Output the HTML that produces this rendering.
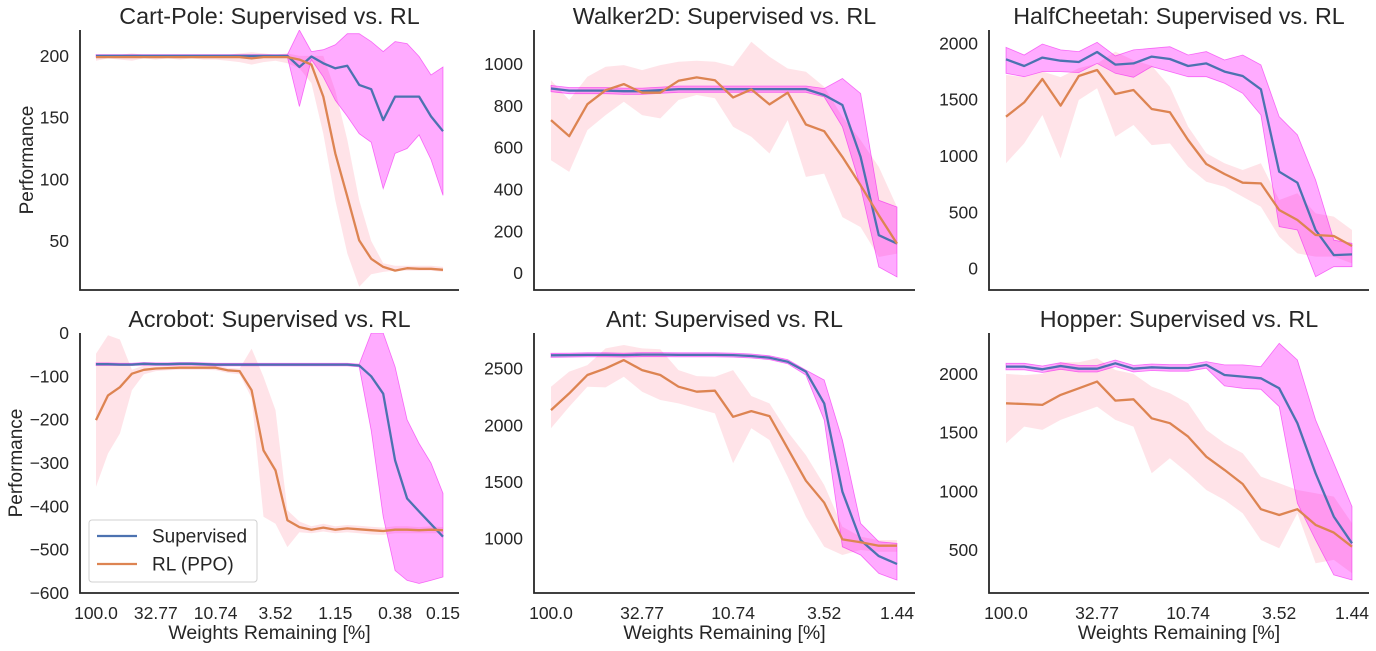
<!DOCTYPE html>
<html><head><meta charset="utf-8"><style>
html,body{margin:0;padding:0;background:#fff;width:1376px;height:651px;overflow:hidden}
svg{display:block;font-family:"Liberation Sans",sans-serif}
</style></head><body>
<svg id="fig" width="1376" height="651" viewBox="0 0 1376 651"></svg>
<script>
// ---------- data ----------
const xTicks30 = ["100.0","32.77","10.74","3.52","1.15","0.38","0.15"];
const xTickIdx30 = [0,5,10,15,20,25,29];
const xTicks20 = ["100.0","32.77","10.74","3.52","1.44"];
const xTickIdx20 = [0,5,10,15,19];

const cartSup   = [200,200,200,200,200,200,200,200,200,200,200,200,200,200,200,200,200,191,199.5,194,190,192,176.5,173,148,167,167,167,151,139];
const cartSupLo = [199,199,199,199,199,199,199,199,199,199,199,199,199,199,199,199,199,159,197,183,164,151,137,130,92.5,121,125,136,116,87];
const cartSupHi = [201,201,201,201,201,201,201,201,201,201,201,201,201,201,201,201,201,221,203.5,205,209,218,218,211.6,203.5,211.6,210,199.5,184.5,191];
const cartRl    = [199,199,199,199,199,199,199,199,199,199,199,199,199,198,199,199,199,197,193,167,121,86,50.5,35.6,29,26,28,27.5,27.5,26.7];
const cartRlLo  = [196,198,197,196,198,197,198,197,198,197,197,196,195,193,195,196,194,190,178,137,83,40,13,23,25,26,26,26,26,25];
const cartRlHi  = [201,201,201,202,201,201,201,201,201,201,201,201,202,203,202,201,202,200,200,200,172,132,83,50,32,30,30,30,30,29];

const acroSup   = [-72,-72,-73,-73,-71,-72,-72,-71,-71,-72,-73,-73,-73,-73,-73,-73,-73,-73,-73,-73,-73,-73,-75,-100,-140,-294,-382,-412,-441,-470];
const acroSupLo = [-75,-75,-75,-75,-74,-75,-75,-74,-74,-75,-76,-76,-76,-76,-76,-76,-76,-76,-76,-76,-76,-76,-78,-225,-424,-548,-571,-578,-571,-563];
const acroSupHi = [-69,-69,-70,-70,-68,-69,-69,-68,-68,-69,-70,-70,-70,-70,-70,-70,-70,-70,-70,-70,-70,-70,-72,0,0,-78,-200,-255,-300,-370];
const acroRl    = [-201,-144,-125,-94,-85,-82,-81,-80,-80,-80,-80,-86,-88,-132,-271,-317,-432,-448,-454,-449,-454,-451,-453,-455,-457,-454,-454,-455,-454,-455];
const acroRlLo  = [-355,-278,-232,-132,-95,-88,-86,-85,-85,-85,-86,-92,-95,-150,-424,-440,-494,-460,-462,-458,-462,-460,-462,-465,-466,-462,-462,-462,-462,-462];
const acroRlHi  = [-48,-5,-15,-85,-75,-77,-76,-75,-75,-75,-75,-80,-82,-36,-101,-178,-409,-435,-446,-440,-446,-443,-445,-447,-449,-446,-446,-448,-446,-448];

const walkSup   = [883,873,873,873,870,870,875,880,880,880,880,880,880,880,880,852,804,556,181,141];
const walkSupLo = [868,858,858,858,855,855,860,865,865,865,865,865,865,865,865,843,700,412,29,-19];
const walkSupHi = [898,888,888,888,885,885,890,895,895,895,895,895,895,895,895,883,931,859,348,316];
const walkRl    = [732,655,808,875,904,863,863,920,936,923,840,879,807,863,711,679,556,420,277,141];
const walkRlLo  = [540,484,684,756,820,756,740,828,852,836,700,652,572,732,460,476,268,220,77,93];
const walkRlHi  = [923,828,939,987,995,971,995,1011,1016,1011,990,1107,1035,979,963,891,748,636,508,316];

const cheeSup   = [1858,1799,1873,1846,1834,1923,1811,1822,1882,1861,1799,1822,1749,1710,1592,861,763,343,121,127];
const cheeSupLo = [1734,1704,1749,1749,1740,1822,1734,1698,1793,1749,1704,1704,1645,1556,1364,373,343,-71,18,18];
const cheeSupHi = [1964,1896,1994,1941,1926,2009,1888,1941,1956,1970,1896,1926,1852,1896,1808,1349,1187,787,254,225];
const cheeRl    = [1349,1476,1683,1447,1710,1763,1550,1586,1417,1388,1142,929,840,763,757,521,432,299,290,201];
const cheeRlLo  = [935,1112,1364,979,1497,1601,1171,1275,1097,1112,905,772,728,639,550,284,136,107,107,47];
const cheeRlHi  = [1720,1700,1750,1700,1780,1820,1926,1850,1800,1615,1260,1024,935,876,935,610,669,491,462,343];

const antSup    = [2618,2620,2622,2622,2620,2624,2624,2622,2622,2622,2620,2612,2597,2562,2474,2194,1415,988,847,777];
const antSupLo  = [2600,2602,2604,2604,2602,2606,2606,2604,2604,2604,2602,2594,2580,2544,2444,2047,929,856,694,635];
const antSupHi  = [2636,2638,2640,2640,2638,2642,2642,2640,2640,2640,2638,2630,2614,2580,2488,2400,1871,1135,974,959];
const antRl     = [2135,2282,2444,2503,2576,2488,2444,2341,2297,2306,2076,2126,2082,1797,1512,1318,994,968,938,938];
const antRlLo   = [1974,2165,2341,2335,2429,2297,2224,2194,2150,2106,1665,1974,1871,1547,1194,929,856,900,885,885];
const antRlHi   = [2341,2474,2532,2679,2709,2679,2671,2488,2435,2429,2488,2259,2194,1944,1738,1474,1106,1018,988,988];

const hopSup    = [2063,2063,2040,2068,2045,2045,2091,2045,2057,2051,2051,2077,1991,1977,1963,1878,1580,1153,784,557];
const hopSupLo  = [2035,2035,2012,2040,2017,2017,2063,2017,2029,2023,2023,2049,1898,1878,1869,1722,898,585,287,244];
const hopSupHi  = [2091,2091,2068,2096,2073,2073,2119,2073,2085,2079,2079,2105,2077,2077,2063,2261,2119,1608,1239,869];
const hopRl     = [1750,1744,1736,1821,1878,1935,1773,1784,1622,1580,1466,1295,1182,1062,847,798,847,713,648,528];
const hopRlLo   = [1409,1551,1523,1608,1665,1722,1608,1551,1153,1281,1153,1011,926,813,585,514,813,386,415,301];
const hopRlHi   = [2000,1990,2000,2100,2100,2134,2034,2000,1892,1835,1750,1523,1409,1324,1125,1068,1011,983,955,727];

const cartYTicks = [50,100,150,200];
const acroYTicks = [-600,-500,-400,-300,-200,-100,0];
const walkYTicks = [0,200,400,600,800,1000];
const cheeYTicks = [0,500,1000,1500,2000];
const antYTicks  = [1000,1500,2000,2500];
const hopYTicks  = [500,1000,1500,2000];

// ---------- drawing ----------
const NS = "http://www.w3.org/2000/svg";
const fig = document.getElementById("fig");
function mk(tag, attrs, parent){const e=document.createElementNS(NS,tag);for(const k in attrs)e.setAttribute(k,attrs[k]);(parent||fig).appendChild(e);return e;}

const panels = [
 {name:"cart-pole",title:"Cart-Pole: Supervised vs. RL",ax:[80,459,30,290],dx:[96,443],y:[10.3,221],yt:cartYTicks,xt:null,xi:xTickIdx30,xl:xTicks30,
  s:cartSup,sl:cartSupLo,sh:cartSupHi,r:cartRl,rl:cartRlLo,rh:cartRlHi,ylab:33},
 {name:"walker2d",title:"Walker2D: Supervised vs. RL",ax:[534,915,30,290],dx:[551,897],y:[-81,1163],yt:walkYTicks,xt:null,xi:xTickIdx20,xl:xTicks20,
  s:walkSup,sl:walkSupLo,sh:walkSupHi,r:walkRl,rl:walkRlLo,rh:walkRlHi},
 {name:"halfcheetah",title:"HalfCheetah: Supervised vs. RL",ax:[989,1369,30,290],dx:[1006,1352],y:[-189,2118],yt:cheeYTicks,xt:null,xi:xTickIdx20,xl:xTicks20,
  s:cheeSup,sl:cheeSupLo,sh:cheeSupHi,r:cheeRl,rl:cheeRlLo,rh:cheeRlHi},
 {name:"acrobot",title:"Acrobot: Supervised vs. RL",ax:[80,459,333,593],dx:[96,443],y:[-600,0],yt:acroYTicks,xt:true,xi:xTickIdx30,xl:xTicks30,
  s:acroSup,sl:acroSupLo,sh:acroSupHi,r:acroRl,rl:acroRlLo,rh:acroRlHi,ylab:22,legend:true},
 {name:"ant",title:"Ant: Supervised vs. RL",ax:[534,915,333,593],dx:[551,897],y:[521,2815],yt:antYTicks,xt:true,xi:xTickIdx20,xl:xTicks20,
  s:antSup,sl:antSupLo,sh:antSupHi,r:antRl,rl:antRlLo,rh:antRlHi},
 {name:"hopper",title:"Hopper: Supervised vs. RL",ax:[989,1369,333,593],dx:[1006,1352],y:[133,2349],yt:hopYTicks,xt:true,xi:xTickIdx20,xl:xTicks20,
  s:hopSup,sl:hopSupLo,sh:hopSupHi,r:hopRl,rl:hopRlLo,rh:hopRlHi},
];

panels.forEach(p=>{
  const g = mk("g",{});
  
  
  const [x0,x1,y0,y1]=p.ax, n=p.s.length;
  const X = i => p.dx[0] + (p.dx[1]-p.dx[0])*i/(n-1);
  const Y = v => y1 - (v-p.y[0])/(p.y[1]-p.y[0])*(y1-y0);
  const clip = mk("clipPath",{id:"c-"+p.name},g);
  mk("rect",{x:x0,y:y0,width:x1-x0,height:y1-y0},clip);
  const band=(lo,hi,fill,stroke,nm)=>{
    let d="M"+lo.map((v,i)=>X(i).toFixed(1)+","+Y(v).toFixed(1)).join("L");
    for(let i=n-1;i>=0;i--) d+="L"+X(i).toFixed(1)+","+Y(hi[i]).toFixed(1);
    const e=mk("path",{d:d+"Z",fill:fill,stroke:stroke,"stroke-width":0.8,"clip-path":"url(#c-"+p.name+")"},g);
    
    
  };
  const line=(arr,col,nm)=>{
    const e=mk("polyline",{points:arr.map((v,i)=>X(i).toFixed(1)+","+Y(v).toFixed(1)).join(" "),fill:"none",stroke:col,"stroke-width":2.3,"stroke-linejoin":"round","clip-path":"url(#c-"+p.name+")"},g);
    
    
  };
  band(p.rl,p.rh,"rgba(255,192,203,0.45)","none","rl-band");
  band(p.sl,p.sh,"rgba(255,0,255,0.33)","rgba(240,0,240,0.5)","supervised-band");
  line(p.s,"#4c72b0","supervised-line");
  line(p.r,"#dd8452","rl-line");
  const sp=mk("path",{d:`M${x0},${y0}V${y1}H${x1}`,fill:"none",stroke:"#262626","stroke-width":1.8},g);
  
  
  p.yt.forEach(v=>{
    const t=mk("text",{x:x0-11,y:Y(v)+6,"text-anchor":"end","font-size":"17.5px",fill:"#262626"},g);
    t.textContent = v<0 ? "\u2212"+(-v) : String(v);
    
    
  });
  if(p.xt){
    p.xi.forEach((k,j)=>{
      const t=mk("text",{x:X(k),y:619,"text-anchor":"middle","font-size":"17.5px",fill:"#262626"},g);
      t.textContent=p.xl[j];
      
      
    });
    const xl=mk("text",{x:(x0+x1)/2,y:639,"text-anchor":"middle","font-size":"19.5px",fill:"#262626"},g);
    xl.textContent="Weights Remaining [%]";
    
    
  }
  const tt=mk("text",{x:(x0+x1)/2,y:y0-6,"text-anchor":"middle","font-size":"23.3px",fill:"#262626"},g);
  tt.textContent=p.title;
  
  
  if(p.ylab){
    const cy=(y0+y1)/2;
    const yl=mk("text",{x:0,y:0,transform:`translate(${p.ylab},${cy}) rotate(-90)`,"text-anchor":"middle","font-size":"19px",fill:"#262626"},g);
    yl.textContent="Performance";
    
    
  }
  if(p.legend){
    const lg=mk("g",{},g);
    
    
    mk("rect",{x:89,y:520,width:168,height:62,rx:3,fill:"rgba(255,255,255,0.85)",stroke:"#d0d0d0","stroke-width":1},lg);
    [["Supervised","#4c72b0",536],["RL (PPO)","#dd8452",564]].forEach(([lab,col,yy])=>{
      const it=mk("g",{},lg);
      
      
      mk("line",{x1:97,x2:137,y1:yy,y2:yy,stroke:col,"stroke-width":2.3},it);
      const t=mk("text",{x:152,y:yy+6.5,"font-size":"19px",fill:"#262626"},it);
      t.textContent=lab;
    });
  }
});
</script>
</body></html>
